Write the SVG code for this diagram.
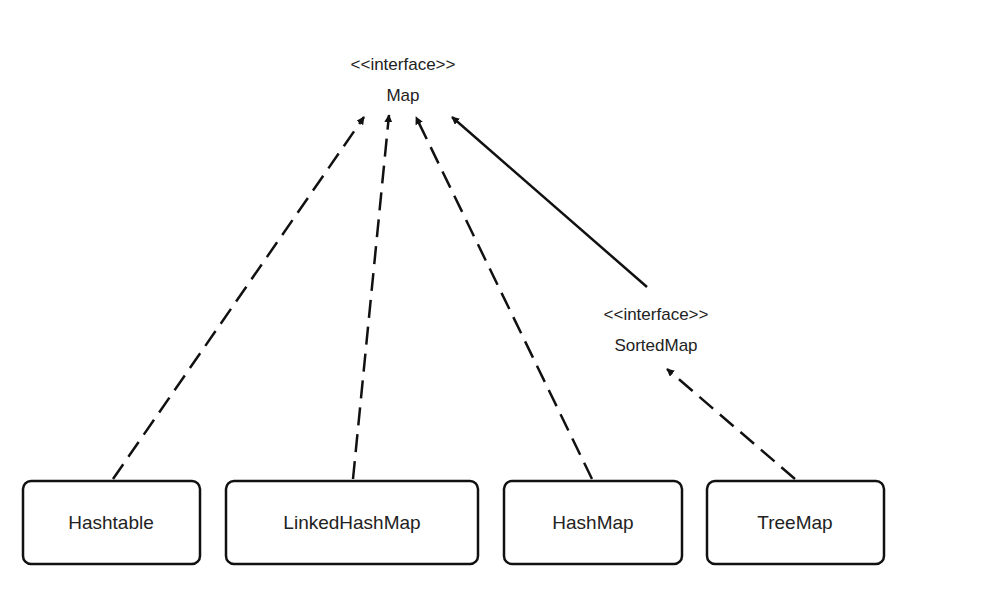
<svg xmlns="http://www.w3.org/2000/svg" width="996" height="606" viewBox="0 0 996 606">
<style>
.box{fill:#fff;stroke:#111;stroke-width:2.5}
.bt{font-family:"Liberation Sans",sans-serif;font-size:19px;fill:#222;text-anchor:middle}
.it{font-family:"Liberation Sans",sans-serif;font-size:17px;fill:#222;text-anchor:middle}
.c{stroke:#111;stroke-width:2.5;fill:none;marker-end:url(#ah)}
.d{stroke-dasharray:18 9}
</style>
<defs><marker id="ah" viewBox="0 0 10 10" refX="9" refY="5" markerWidth="8" markerHeight="8" markerUnits="userSpaceOnUse" orient="auto"><path d="M0,0 L10,5 L0,10 z" fill="#111" transform="scale(1)"/></marker>
<marker id="ah2" viewBox="0 0 10 10" refX="9" refY="5" markerWidth="8" markerHeight="8" orient="auto"><path d="M0,1 L10,5 L0,9 z" fill="#111"/></marker></defs>
<rect width="996" height="606" fill="#fff"/>
<g id="map"><text class="it" x="403" y="70">&lt;&lt;interface&gt;&gt;</text><text class="it" x="403" y="101">Map</text></g>
<g id="sortedmap"><text class="it" x="656" y="320">&lt;&lt;interface&gt;&gt;</text><text class="it" x="656" y="351">SortedMap</text></g>
<g id="hashtable"><rect class="box" x="23" y="481" width="177" height="83" rx="8"/><text class="bt" x="111" y="529">Hashtable</text></g>
<g id="linkedhashmap"><rect class="box" x="226" y="481" width="252" height="83" rx="8"/><text class="bt" x="352" y="529">LinkedHashMap</text></g>
<g id="hashmap"><rect class="box" x="504" y="481" width="178" height="83" rx="8"/><text class="bt" x="593" y="529">HashMap</text></g>
<g id="treemap"><rect class="box" x="707" y="481" width="177" height="83" rx="8"/><text class="bt" x="795" y="529">TreeMap</text></g>
<g id="connectors">
<line class="c d" x1="113" y1="479" x2="364" y2="117" marker-end="url(#ah2)"/>
<line class="c d" x1="353" y1="479" x2="389" y2="115" marker-end="url(#ah2)"/>
<line class="c d" x1="592" y1="479" x2="416" y2="117" marker-end="url(#ah2)"/>
<line class="c" x1="647" y1="287" x2="452" y2="117" marker-end="url(#ah2)"/>
<line class="c d" x1="795" y1="479" x2="667" y2="369" marker-end="url(#ah2)"/>
</g>
</svg>
